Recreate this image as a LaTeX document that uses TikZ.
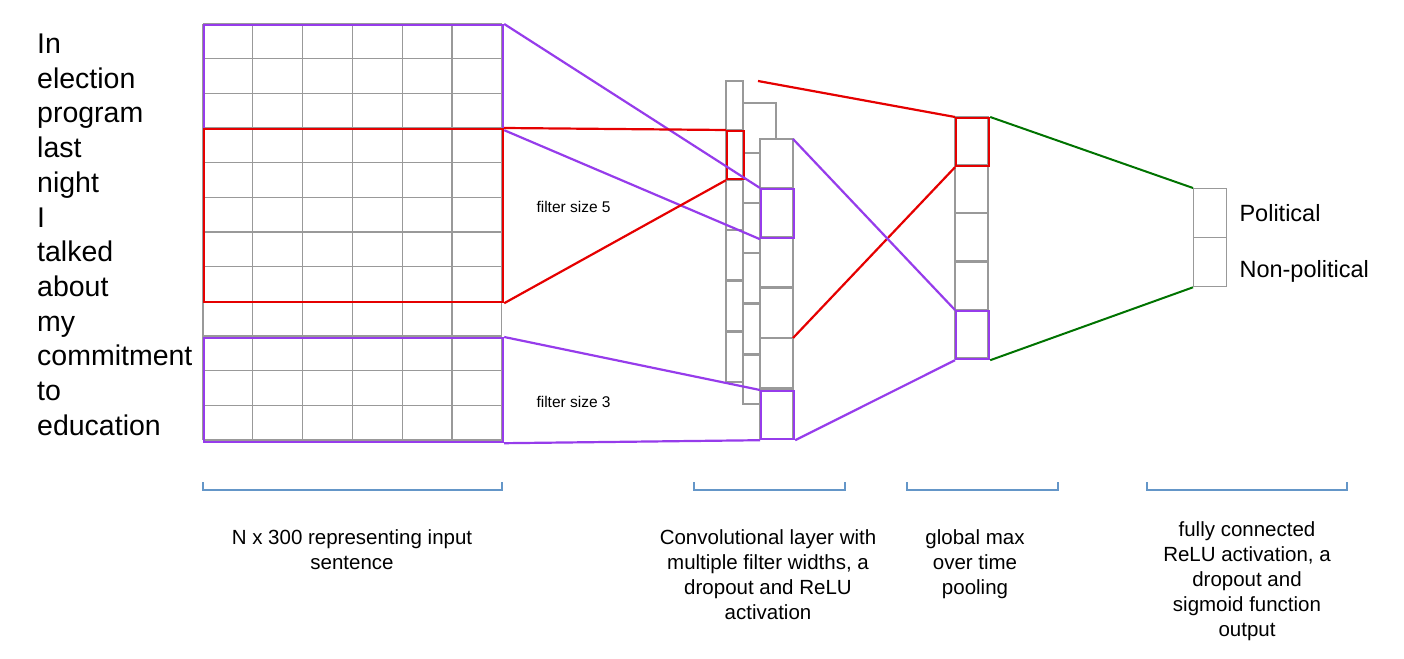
\documentclass[tikz,border=0pt]{standalone}
\usepackage{fontspec}
\setmainfont{Liberation Sans}
\begin{document}
\begin{tikzpicture}[x=1pt,y=-1pt,
 gr/.style={draw=black!40,line width=1.3pt},
 rd/.style={draw=red!90!black,line width=2.2pt},
 gn/.style={draw=green!45!black,line width=2pt},
 word/.style={anchor=base west,font=\fontsize{28.5}{28.5}\selectfont,inner sep=0},
 lab/.style={align=center,font=\fontsize{20.5}{25}\selectfont,anchor=north},
 sm/.style={font=\fontsize{15.5}{15.5}\selectfont,anchor=west}]
\useasboundingbox (0,0) rectangle (1404,658);
\definecolor{pur}{RGB}{150,60,235}
\definecolor{brc}{RGB}{100,150,200}
\tikzset{pu/.style={draw=pur,line width=2.2pt},br/.style={draw=brc,line width=2.2pt}}
% words
\foreach \w [count=\i] in {In,election,program,last,night,I,talked,about,my,commitment,to,education}
  \node[word] (w\i) at (37,{53.5+(\i-1)*34.7}) {\w};
% input grid
\foreach \c in {0,...,6} \draw[gr] ({203+\c*49.8},24) -- ({203+\c*49.8},440);
\foreach \r in {0,...,12} \draw[gr] (203,{24+\r*34.67}) -- (502,{24+\r*34.67});
\node[pu,minimum width=299,minimum height=104,inner sep=0,anchor=north west] (p1) at (203,24) {};
\node[rd,minimum width=299,minimum height=173,inner sep=0,anchor=north west] (r1) at (203,128) {};
\node[pu,minimum width=299,minimum height=104,inner sep=0,anchor=north west] (p2) at (203,337) {};
% conv columns
\foreach \y in {81,130,180,230,281,332} \draw[gr,fill=white] (726,\y) rectangle (743,\y+50);
\foreach \y in {103,153,203,253,304} \draw[gr,fill=white] (743,\y) rectangle (776,\y+50);
\draw[gr,fill=white] (743,355) rectangle (776,404);
\foreach \y in {139,188,237,288,338,389} \draw[gr,fill=white] (760,\y) rectangle (793,\y+49.5);
\node[rd,minimum width=17,minimum height=48,inner sep=0,anchor=north west] (cr) at (726,130) {};
\node[pu,minimum width=33,minimum height=49,inner sep=0,anchor=north west] (cp1) at (760,188) {};
\node[pu,minimum width=33,minimum height=48,inner sep=0,anchor=north west] (cp2) at (760,390) {};
\coordinate (c1t) at (758,81); \coordinate (c3t) at (793,139); \coordinate (c3r) at (793,338);
% pool
\foreach \y in {117,165,213,262,310} \draw[gr] (955,\y) rectangle (988,\y+48);
\node[rd,minimum width=33,minimum height=48,inner sep=0,anchor=north west] (pr) at (955,117) {};
\node[pu,minimum width=33,minimum height=48,inner sep=0,anchor=north west] (pp) at (955,310) {};
% output
\node[gr,minimum width=33,minimum height=49,inner sep=0,anchor=north west] (o1) at (1193,188) {};
\node[gr,minimum width=33,minimum height=49,inner sep=0,anchor=north west] (o2) at (1193,237) {};
\node[anchor=west,font=\fontsize{23.5}{23.5}\selectfont] (t1) at (1236,213) {Political};
\node[anchor=west,font=\fontsize{23.5}{23.5}\selectfont] (t2) at (1236,271) {Non-political};
% connectors
\draw[pu] (p1.north east) -- (cp1.north west);
\draw[pu] (p1.south east) -- (cp1.south west);
\draw[rd] (r1.north east) -- (cr.north west);
\draw[rd] (r1.south east) -- (cr.south west);
\draw[pu] (p2.north east) -- (cp2.north west);
\draw[pu] (p2.south east) -- (cp2.south west);
\draw[rd] (c1t) -- (pr.north west);
\draw[rd] (c3r) -- (pr.south west);
\draw[pu] (c3t) -- (pp.north west);
\draw[pu] (cp2.south east) -- (pp.south west);
\draw[gn] (pr.north east) -- (o1.north west);
\draw[gn] (pp.south east) -- (o2.south west);
\node[sm] (f5) at (533,207) {filter size 5};
\node[sm] (f3) at (533,402) {filter size 3};
% braces
\foreach \a/\b in {203/502,694/845,907/1058,1147/1347}
  \draw[br] (\a,482) -- (\a,490) -- (\b,490) -- (\b,482);
\node[lab] (l1) at (352,526) {N x 300 representing input\\sentence};
\node[lab] (l2) at (768,526) {Convolutional layer with\\multiple filter widths, a\\dropout and ReLU\\activation};
\node[lab] (l3) at (975,526) {global max\\over time\\pooling};
\node[lab] (l4) at (1247,518) {fully connected\\ReLU activation, a\\dropout and\\sigmoid function\\output};
\end{tikzpicture}
\end{document}
